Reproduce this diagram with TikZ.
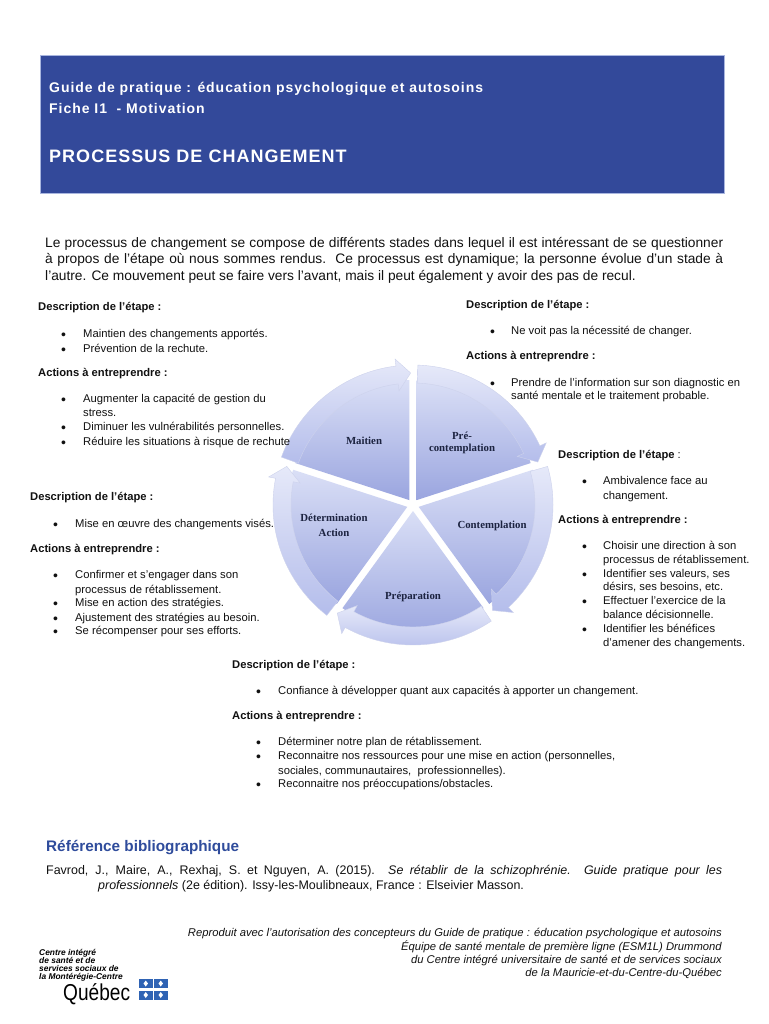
\documentclass[tikz,border=0pt]{standalone}
\usepackage{fontspec}
\setmainfont{Liberation Sans}
\newfontfamily\serifb[Ligatures=TeX]{Liberation Serif}
\usepackage{tikz}
\usetikzlibrary{positioning}
\definecolor{Bandeau}{HTML}{33499A}
\definecolor{BandeauBord}{HTML}{A9B6DF}
\definecolor{TitreRef}{HTML}{2F4C9C}
\definecolor{Encre}{HTML}{111111}
\definecolor{SecteurHaut}{HTML}{DADFF6}
\definecolor{SecteurBas}{HTML}{9AA5DF}
\definecolor{AnneauHaut}{HTML}{E6E9F9}
\definecolor{AnneauBas}{HTML}{B4BDEB}
\definecolor{AnneauBord}{HTML}{CDD2EC}
\definecolor{Etiquette}{HTML}{1C2340}
\definecolor{Fleur}{HTML}{2F63B4}
\tikzset{
  ligne/.style={anchor=base west,inner sep=0pt,yshift=-4pt,font=\fontsize{11.25}{13}\selectfont,text=Encre},
  etape/.style={ligne,font=\fontsize{11.2}{13}\selectfont\bfseries},
  puce/.style={ligne,xshift=.8pt,yshift=-2.8pt,font=\fontsize{14}{14}\selectfont},
  secteur/.style={font=\serifb\fontsize{10.8}{12}\selectfont\bfseries,text=Etiquette,inner sep=0pt},
  blanc/.style={anchor=base west,inner sep=0pt,text=white,font=\bfseries\fontsize{14}{16}\selectfont\addfontfeature{LetterSpace=6.8}},
  credit/.style={anchor=base east,inner sep=0pt,text=Encre,font=\itshape\fontsize{11.25}{13}\selectfont},
  logo/.style={anchor=base west,inner sep=0pt,text=black,font=\bfseries\itshape\fontsize{8.4}{9}\selectfont}
}
\begin{document}
\begin{tikzpicture}[x=1pt,y=1pt]
  \useasboundingbox[fill=white] (0,0) rectangle (768,-1024);
  \node[draw=BandeauBord,fill=Bandeau,line width=.6pt,minimum width=684pt,minimum height=138pt,inner sep=0pt,anchor=north west] (bandeau) at (40,-55) {};
  \node[blanc] (guide) at (49,-93) {Guide de pratique : éducation psychologique et autosoins};
  \node[blanc] (fiche) at (49,-114) {Fiche I1\ \ - Motivation};
  \node[blanc,font=\bfseries\fontsize{18}{20}\selectfont\addfontfeature{LetterSpace=5.7}] (titre) at (49,-163) {PROCESSUS DE CHANGEMENT};
  \node[anchor=north west,inner sep=0pt,text width=678pt,align=justify,text=Encre,font=\fontsize{13.75}{16.6}\selectfont] (intro) at (45,-237) {Le processus de changement se compose de différents stades dans lequel il est intéressant de se questionner\linebreak à propos de l’étape où nous sommes rendus.\ \ Ce processus est dynamique; la personne évolue d’un stade à\linebreak l’autre. Ce mouvement peut se faire vers l’avant, mais il peut également y avoir des pas de recul.};

  \begin{scope}[shift={(413,-505)}]
    \foreach \a in {90,18,-54,-126,-198}
      \shade[top color=SecteurHaut,bottom color=SecteurBas] (\a-36:6) -- ++(\a:120) arc[start angle=\a,end angle=\a-72,radius=120pt] -- cycle;
    \foreach \a in {90,18,-54,-126,-198}
      \shade[draw=AnneauBord,line width=.4pt,top color=AnneauHaut,bottom color=AnneauBas] (\a-2:140) arc[start angle=\a-2,end angle=\a-65,radius=140pt] -- (\a-65:147) -- (\a-71:132) -- (\a-65:115) -- (\a-65:122) arc[start angle=\a-65,end angle=\a-2,radius=122pt] -- cycle;
  \end{scope}
  \node[secteur] (maitien) at (364,-441) {Maitien};
  \node[secteur,align=center] (pre) at (462,-442.5) {Pré-\\contemplation};
  \node[secteur] (contemplation) at (492,-526) {Contemplation};
  \node[secteur] (preparation) at (413,-597) {Préparation};
  \node[secteur,align=center,font=\serifb\fontsize{10.8}{15}\selectfont\bfseries] (determination) at (334,-525.5) {Détermination\\Action};

  \foreach \y/\x/\txt in {306/38/Description de l’étape :,372/38/Actions à entreprendre :,304/466/Description de l’étape :,355/466/Actions à entreprendre :,519/558/Actions à entreprendre :,496/30/Description de l’étape :,548/30/Actions à entreprendre :,664/232/Description de l’étape :,715/232/Actions à entreprendre :}
    \node[etape] (titre\x-\y) at (\x,-\y) {\txt};
  \node[etape] (titre558-454) at (558,-454) {Description de l’étape \textmd{:}};

  \foreach \y/\txt in {333/Maintien des changements apportés.,348/Prévention de la rechute.,398/Augmenter la capacité de gestion du,412/stress.,426/Diminuer les vulnérabilités personnelles.,441/Réduire les situations à risque de rechute}
    \node[ligne] (hg\y) at (83,-\y) {\txt};
  \foreach \y in {333,348,398,426,441}
    \node[puce] (phg\y) at (60,-\y) {\textbullet};

  \foreach \y/\txt in {330/Ne voit pas la nécessité de changer.,382/Prendre de l’information sur son diagnostic en,395/santé mentale et le traitement probable.}
    \node[ligne] (hd\y) at (511,-\y) {\txt};
  \foreach \y in {330,382}
    \node[puce] (phd\y) at (489,-\y) {\textbullet};

  \foreach \y/\txt in {480/Ambivalence face au,495/changement.,545/Choisir une direction à son,559/processus de rétablissement.,573/{Identifier ses valeurs, ses},586/{désirs, ses besoins, etc.},600/Effectuer l’exercice de la,614/balance décisionnelle.,628/Identifier les bénéfices,642/d’amener des changements.}
    \node[ligne] (dr\y) at (603,-\y) {\txt};
  \foreach \y in {480,545,573,600,628}
    \node[puce] (pdr\y) at (581,-\y) {\textbullet};

  \foreach \y/\txt in {523/Mise en œuvre des changements visés.,574/Confirmer et s’engager dans son,589/processus de rétablissement.,602/Mise en action des stratégies.,617/Ajustement des stratégies au besoin.,630/Se récompenser pour ses efforts.}
    \node[ligne] (ga\y) at (75,-\y) {\txt};
  \foreach \y in {523,574,602,617,630}
    \node[puce] (pga\y) at (52,-\y) {\textbullet};

  \foreach \y/\txt in {690/Confiance à développer quant aux capacités à apporter un changement.,741/Déterminer notre plan de rétablissement.,755/{Reconnaitre nos ressources pour une mise en action (personnelles,},770/{sociales, communautaires,\ \ professionnelles).},783/{Reconnaitre nos préoccupations/obstacles.}}
    \node[ligne] (ba\y) at (278,-\y) {\txt};
  \foreach \y in {690,741,755,783}
    \node[puce] (pba\y) at (255,-\y) {\textbullet};

  \node[anchor=base west,inner sep=0pt,text=TitreRef,font=\bfseries\fontsize{15.3}{17}\selectfont] (reference) at (46,-851) {Référence bibliographique};
  \node[anchor=base west,inner sep=0pt,text=Encre,font=\fontsize{12.45}{14}\selectfont] (favrod) at (46,-874) {\makebox[676pt][s]{Favrod, J., Maire, A., Rexhaj, S. et Nguyen, A. (2015). \textit{Se rétablir de la schizophrénie. Guide pratique pour les}}};
  \node[anchor=base west,inner sep=0pt,text=Encre,font=\fontsize{12.45}{14}\selectfont] (masson) at (98,-889) {\textit{professionnels} (2e édition). Issy-les-Moulibneaux, France : Elseivier Masson.};

  \foreach \y/\txt in {936/Reproduit avec l’autorisation des concepteurs du Guide de pratique : éducation psychologique et autosoins,950/Équipe de santé mentale de première ligne (ESM1L) Drummond,963/du Centre intégré universitaire de santé et de services sociaux,976/de la Mauricie-et-du-Centre-du-Québec}
    \node[credit] (credit\y) at (722,-\y) {\txt};

  \foreach \y/\txt in {955/Centre intégré,963/de santé et de,971/services sociaux de,979/la Montérégie-Centre}
    \node[logo] (logo\y) at (39,-\y) {\txt};
  \node[anchor=base west,inner sep=0pt,text=black,font=\fontsize{23}{25}\selectfont] (quebec) at (63,-1000) {\scalebox{.83}[1]{Québec}};
  \foreach \x/\y in {139/979,154/979,139/990.5,154/990.5} {
    \fill[Fleur] (\x,-\y) rectangle ++(13.5,-9);
    \fill[white] (\x+6.75,-\y-1.5) -- ++(2.2,-3) -- ++(-2.2,-3) -- ++(-2.2,3) -- cycle;
  }
\end{tikzpicture}
\end{document}
